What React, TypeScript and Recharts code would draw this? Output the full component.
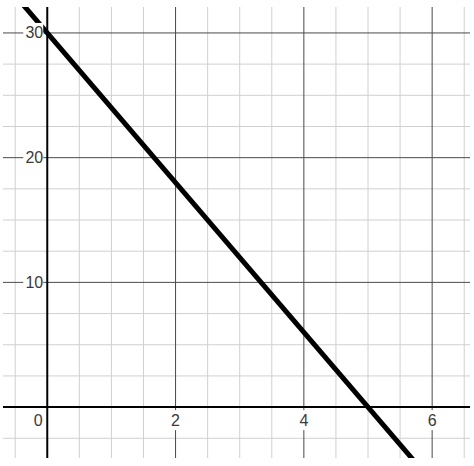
import { LineChart, Line, XAxis, YAxis, ReferenceLine, ReferenceDot } from 'recharts';

// line y = 30 - 6x, taken at two points outside the visible window
const linePoints = [
  { x: -1, y: 36 },
  { x: 6, y: -6 },
];

const minorX = [-0.5, 0.5, 1, 1.5, 2.5, 3, 3.5, 4.5, 5, 5.5, 6.5];
const majorX = [2, 4, 6];
const minorY = [-2.5, 2.5, 5, 7.5, 12.5, 15, 17.5, 22.5, 25, 27.5];
const majorY = [10, 20, 30];
const xTickLabels = ['0', '2', '4', '6'];
const yTickLabels = ['10', '20', '30'];

const xDomain: [number, number] = [-0.69, 6.59];
const yDomain: [number, number] = [-4.08, 32.08];

const labelFont = { fontFamily: '"Liberation Sans", Arial, sans-serif', fontSize: 16, fill: '#3a3a3a' };

function XTick({ cx, cy, text }: any) {
  const isZero = text === '0';
  const x = isZero ? cx - 9 : cx;
  const y = cy + 13;
  return (
    <g>
      <rect x={x - 7} y={y - 10} width={14} height={20} fill="#fff" />
      <text x={x} y={y} textAnchor="middle" dominantBaseline="central" {...labelFont}>{text}</text>
    </g>
  );
}

function YTick({ cx, cy, text }: any) {
  const x = cx - 4;
  return (
    <g>
      <rect x={x - 20} y={cy - 10} width={20} height={20} fill="#fff" />
      <text x={x} y={cy} textAnchor="end" dominantBaseline="central" {...labelFont}>{text}</text>
    </g>
  );
}

export default function App() {
  return (
    <div style={{ width: 474, height: 466, background: '#fff' }}>
      <style>{`body{margin:0}`}</style>
      <LineChart width={474} height={466} data={linePoints} margin={{ top: 7, right: 4, bottom: 8, left: 3 }}>
        <XAxis type="number" dataKey="x" domain={xDomain} allowDataOverflow hide />
        <YAxis type="number" dataKey="y" domain={yDomain} allowDataOverflow hide />
        {minorX.map(v => (
          <ReferenceLine key={'mx' + v} x={v} stroke="#d0d0d0" strokeWidth={1} />
        ))}
        {minorY.map(v => (
          <ReferenceLine key={'my' + v} y={v} stroke="#d0d0d0" strokeWidth={1} />
        ))}
        {majorX.map(v => (
          <ReferenceLine key={'Mx' + v} x={v} stroke="#4a4a4a" strokeWidth={1} />
        ))}
        {majorY.map(v => (
          <ReferenceLine key={'My' + v} y={v} stroke="#4a4a4a" strokeWidth={1} />
        ))}
        <ReferenceLine x={0} stroke="#000" strokeWidth={2} />
        <ReferenceLine y={0} stroke="#000" strokeWidth={2} />
        {xTickLabels.map(t => (
          <ReferenceDot key={'xt' + t} x={Number(t)} y={0} r={0}
            shape={(p: any) => <XTick cx={p.cx} cy={p.cy} text={t} />} />
        ))}
        {yTickLabels.map(t => (
          <ReferenceDot key={'yt' + t} x={0} y={Number(t)} r={0}
            shape={(p: any) => <YTick cx={p.cx} cy={p.cy} text={t} />} />
        ))}
        <Line type="linear" dataKey="y" stroke="#000" strokeWidth={5} dot={false} isAnimationActive={false} />
      </LineChart>
    </div>
  );
}
